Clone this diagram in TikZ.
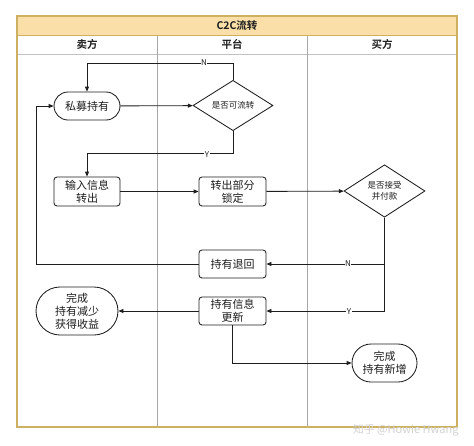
\documentclass[tikz,border=0pt]{standalone}
\usepackage{fontspec}
\setmainfont{Noto Sans CJK SC}
\newfontfamily\cjkbold{Noto Sans CJK SC Bold}
\usetikzlibrary{arrows.meta,shapes.geometric,shapes.misc}
\definecolor{laneborder}{HTML}{CDB060}
\definecolor{titlefill}{HTML}{FAE0A8}
\definecolor{divider}{HTML}{A8A8A8}
\definecolor{ink}{HTML}{1E1E1E}
\begin{document}
\begin{tikzpicture}[x=1pt,y=-1pt,
  every node/.style={font=\fontsize{11}{13}\selectfont, text=ink},
  stad/.style={draw=ink, line width=0.85pt, rounded rectangle, inner sep=0pt, align=center},
  box/.style={draw=ink, line width=0.85pt, rounded corners=3pt, inner sep=0pt, align=center},
  dia/.style={draw=ink, line width=0.85pt, diamond, inner sep=0pt, align=center, font=\fontsize{8.5}{10.5}\selectfont},
  flow/.style={draw=ink, line width=0.85pt, -{Triangle[length=5pt,width=4pt]}},
  lbl/.style={font=\fontsize{8}{9}\selectfont, fill=white, inner sep=0.5pt},
  hdr/.style={font=\cjkbold\fontsize{10.5}{12}\selectfont}
]
\useasboundingbox (0,0) rectangle (474,445);
\fill[white] (0,0) rectangle (474,445);
% swimlane frame
\fill[titlefill] (17,16) rectangle (457,35);
\draw[divider!70, line width=0.5pt] (17,54) -- (457,54);
\draw[divider, line width=0.6pt] (157,35) -- (157,427);
\draw[divider, line width=0.6pt] (307,35) -- (307,427);
\draw[laneborder, line width=1pt] (17,35) -- (457,35);
\draw[laneborder, line width=1.2pt] (17,16) rectangle (457,427);
\node[hdr] (title) at (237,25.5) {C2C流转};
\node[hdr] (h1) at (87,44.5) {卖方};
\node[hdr] (h2) at (232,44.5) {平台};
\node[hdr] (h3) at (382,44.5) {买方};

% nodes
\node[stad, minimum width=66pt, minimum height=28pt] (hold) at (87,106) {私募持有};
\node[dia, minimum width=80pt, minimum height=45pt] (can) at (233,105.5) {是否可流转};
\node[box, minimum width=66pt, minimum height=29pt] (input) at (87,191.5) {输入信息\\转出};
\node[box, minimum width=67pt, minimum height=29pt] (lock) at (232.5,191.5) {转出部分\\锁定};
\node[dia, minimum width=81pt, minimum height=46pt] (acc) at (384.5,191) {是否接受\\并付款};
\node[box, minimum width=67pt, minimum height=28pt] (back) at (232.5,264) {持有退回};
\node[box, minimum width=67pt, minimum height=28pt] (upd) at (232.5,311) {持有信息\\更新};
\node[stad, minimum width=82pt, minimum height=48pt] (done1) at (77,311) {完成\\持有减少\\获得收益};
\node[stad, minimum width=65pt, minimum height=38pt] (done2) at (384.5,363) {完成\\持有新增};

\coordinate (nTop) at (233,63);
\coordinate (yMid) at (233,153);
\coordinate (leftRail) at (36,264);

% connectors
\draw[flow] (hold) -- (can);
\draw[flow] (can.north) -- (nTop) -- (hold.north |- nTop) -- (hold.north);
\node[lbl] (nlab1) at (204,63) {N};
\draw[flow] (can.south) -- (yMid) -- (input.north |- yMid) -- (input.north);
\node[lbl] (ylab1) at (207,154.5) {Y};
\draw[flow] (input) -- (lock);
\draw[flow] (lock) -- (acc);
\draw[flow] (acc.south) -- (acc.south |- back.east) -- (back.east);
\node[lbl] (nlab2) at (348,264) {N};
\draw[flow] (acc.south) -- (acc.south |- upd.east) -- (upd.east);
\node[lbl] (ylab2) at (349,312) {Y};
\draw[flow] (back.west) -- (leftRail) -- (leftRail |- hold.west) -- (hold.west);
\draw[flow] (upd.west) -- (done1.east);
\draw[flow] (upd.south) -- (upd.south |- done2.west) -- (done2.west);

% watermark
\node[text=gray!35, font=\fontsize{11}{13}\selectfont, anchor=east] (wm) at (462,430) {知乎 @Howie Hwang};
\end{tikzpicture}
\end{document}
